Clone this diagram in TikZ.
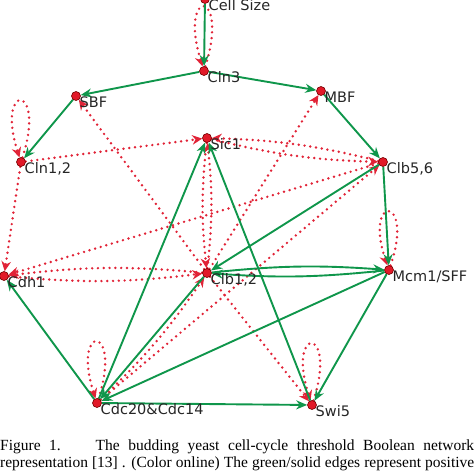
\documentclass[tikz,border=0pt]{standalone}
\usepackage{fontspec}
\setmainfont{Liberation Serif}
\newfontfamily\lblfont{DejaVu Sans}
\usetikzlibrary{arrows.meta,calc}
\definecolor{posgreen}{RGB}{15,150,75}
\definecolor{negred}{RGB}{225,35,55}
\definecolor{dotred}{RGB}{225,25,40}
\pgfdeclarelayer{bg}
\pgfsetlayers{bg,main}
\tikzset{
  gene/.style={circle, fill=dotred, draw=black!55!red, line width=0.6pt, inner sep=0pt, minimum size=9pt},
  lbl/.style={anchor=base west, font=\lblfont\fontsize{14.5}{16}\selectfont, text=black!85, inner sep=0pt},
  posedge/.style={draw=posgreen, line width=1.9pt, -{Stealth[length=11pt,width=9pt]}},
  negedge/.style={draw=negred, line width=2.7pt, line cap=round, dash pattern=on 0pt off 5.8pt, -{Stealth[length=10pt,width=9.5pt]}},
  captext/.style={anchor=base west, inner sep=0pt, font=\fontsize{15.5}{18}\selectfont}
}
\begin{document}
\begin{tikzpicture}[x=1pt,y=-1pt]
\useasboundingbox (0,0) rectangle (474,474);
% genes
\node[gene] (cs) at (205,-1) {};
\node[gene] (cln3) at (204,71) {};
\node[gene] (sbf) at (76,96) {};
\node[gene] (mbf) at (321,91) {};
\node[gene] (cln12) at (21,162) {};
\node[gene] (sic1) at (207,138) {};
\node[gene] (clb56) at (383,162) {};
\node[gene] (cdh1) at (4,276) {};
\node[gene] (clb12) at (207,273) {};
\node[gene] (mcm1) at (389,270) {};
\node[gene] (cdc20) at (97,403) {};
\node[gene] (swi5) at (312,405) {};
% labels
\node[lbl] (lcs) at ($(cs)+(3.5,11.5)$) {Cell Size};
\node[lbl] (lcln3) at ($(cln3)+(3.5,11.5)$) {Cln3};
\node[lbl] (lsbf) at ($(sbf)+(3.5,11.5)$) {SBF};
\node[lbl] (lmbf) at ($(mbf)+(3.5,11.5)$) {MBF};
\node[lbl] (lcln12) at ($(cln12)+(3.5,11.5)$) {Cln1,2};
\node[lbl] (lsic1) at ($(sic1)+(3.5,11.5)$) {Sic1};
\node[lbl] (lclb56) at ($(clb56)+(3.5,11.5)$) {Clb5,6};
\node[lbl] (lcdh1) at ($(cdh1)+(3.5,11.5)$) {Cdh1};
\node[lbl] (lclb12) at ($(clb12)+(3.5,11.5)$) {Clb1,2};
\node[lbl] (lmcm1) at ($(mcm1)+(3.5,11.5)$) {Mcm1/SFF};
\node[lbl] (lcdc20) at ($(cdc20)+(3.5,11.5)$) {Cdc20\&Cdc14};
\node[lbl] (lswi5) at ($(swi5)+(3.5,11.5)$) {Swi5};
\begin{pgfonlayer}{bg}
% negative (red dotted)
\draw[negedge] (cln3) .. controls +(26,-84) and +(-26,-84) .. (cln3);
\draw[negedge] (cln12) .. controls +(26,-80) and +(-26,-80) .. (cln12);
\draw[negedge] (mcm1) .. controls +(26,-76) and +(-26,-76) .. (mcm1);
\draw[negedge] (cdc20) .. controls +(26,-80) and +(-26,-80) .. (cdc20);
\draw[negedge] (swi5) .. controls +(26,-80) and +(-26,-80) .. (swi5);
\draw[negedge] (cln12) -- (sic1);
\draw[negedge] (cln12) -- (cdh1);
\draw[negedge] (clb56) to[bend right=6] (sic1);
\draw[negedge] (sic1) to[bend right=6] (clb56);
\draw[negedge] (clb56) -- (cdh1);
\draw[negedge] (sic1) to[bend right=6] (clb12);
\draw[negedge] (clb12) to[bend right=6] (sic1);
\draw[negedge] (clb12) -- (sbf);
\draw[negedge] (clb12) -- (mbf);
\draw[negedge] (clb12) to[bend right=6] (cdh1);
\draw[negedge] (cdh1) to[bend right=6] (clb12);
\draw[negedge] (clb12) -- (swi5);
\draw[negedge] (cdc20) to[bend right=6] (clb12);
\draw[negedge] (cdc20) -- (clb56);
% positive (green solid)
\draw[posedge] (cs) -- (cln3);
\draw[posedge] (cln3) -- (sbf);
\draw[posedge] (cln3) -- (mbf);
\draw[posedge] (sbf) -- (cln12);
\draw[posedge] (mbf) -- (clb56);
\draw[posedge] (clb56) -- (mcm1);
\draw[posedge] (clb56) -- (clb12);
\draw[posedge] (clb12) to[bend left=5] (mcm1);
\draw[posedge] (mcm1) to[bend left=5] (clb12);
\draw[posedge] (mcm1) -- (cdc20);
\draw[posedge] (mcm1) -- (swi5);
\draw[posedge] (clb12) -- (cdc20);
\draw[posedge] (cdc20) -- (swi5);
\draw[posedge] (cdc20) -- (cdh1);
\draw[posedge] (cdc20) -- (sic1);
\draw[posedge] (swi5) -- (sic1);
\end{pgfonlayer}
% caption
\node[captext] (cap1) at (0,450) {\makebox[474pt][s]{Figure 1.\hspace{1em} The budding yeast cell-cycle threshold Boolean network}};
\node[captext] (cap2) at (0,467) {\makebox[474pt][s]{representation [13] . (Color online) The green/solid edges represent positive}};
\end{tikzpicture}
\end{document}
